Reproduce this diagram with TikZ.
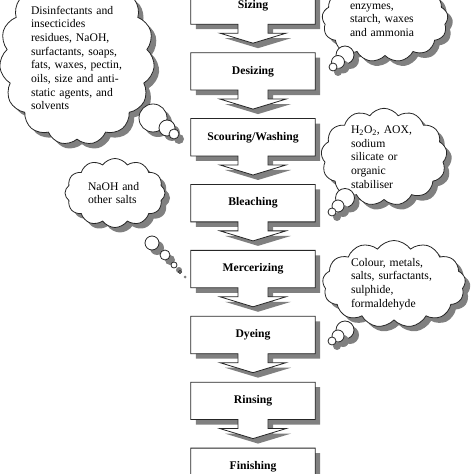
\documentclass[tikz,border=0pt]{standalone}
\usepackage{fontspec}
\setmainfont{Liberation Serif}
\usetikzlibrary{positioning,shapes.symbols,shadows,backgrounds}

\begin{document}
\begin{tikzpicture}[
        x=1bp, y=-1bp,
        node distance=28.5bp,
        stepbox/.style={minimum width=124bp, minimum height=37bp, inner sep=0pt, font=\bfseries\fontsize{11.7}{14}\selectfont},
        dropgray/.style={drop shadow={shadow xshift=5bp, shadow yshift=-5bp, fill=black!50, opacity=1}},
        callout/.style={draw=black!85, fill=white, line width=0.8bp, dropgray},
        note/.style={cloud, cloud puffs=13, cloud puff arc=110, cloud ignores aspect, draw=black!85, fill=white, line width=0.8bp, dropgray, align=left, inner sep=0pt, font=\fontsize{11.7}{13.7}\selectfont},
        bubble/.style={circle, draw=black!85, fill=white, line width=0.8bp, inner sep=0pt, dropgray},
    ]
        \useasboundingbox (0,0) rectangle (474,474);
        \node[stepbox] (siz) at (253,5.5) {Sizing};
        \node[stepbox, below=of siz] (desiz) {Desizing};
        \node[stepbox, below=of desiz] (scour) {Scouring/Washing};
        \node[stepbox, below=of scour] (bleach) {Bleaching};
        \node[stepbox, below=of bleach] (merc) {Mercerizing};
        \node[stepbox, below=of merc] (dye) {Dyeing};
        \node[stepbox, below=of dye] (rinse) {Rinsing};
        \node[stepbox, below=of rinse] (finish) {Finishing};
        \begin{scope}[on background layer]
            \foreach \n in {siz,desiz,scour,bleach,merc,dye,rinse,finish}
                \path[callout] (\n.north west) -- (\n.north east) -- (\n.south east)
                    -- ([xshift=15bp]\n.south) -- ([xshift=15bp,yshift=-9bp]\n.south)
                    -- ([xshift=33bp,yshift=-9bp]\n.south) -- ([yshift=-19bp]\n.south)
                    -- ([xshift=-33bp,yshift=-9bp]\n.south) -- ([xshift=-15bp,yshift=-9bp]\n.south)
                    -- ([xshift=-15bp]\n.south) -- (\n.south west) -- cycle;
        \end{scope}
        \node[note, cloud puffs=15, text width=92bp, minimum width=155bp, minimum height=174bp] (scournote) at (77,58) {Disinfectants and\\insecticides\\residues, NaOH,\\surfactants, soaps,\\fats, waxes, pectin,\\oils, size and anti-\\static agents, and\\solvents};
        \node[note, text width=70bp, minimum width=126bp, minimum height=84bp] (desiznote) at (385,20) {enzymes,\\starch, waxes\\and ammonia};
        \node[note, text width=66bp, minimum width=126bp, minimum height=96bp] (bleachnote) at (384,157) {H\textsubscript{2}O\textsubscript{2}, AOX,\\sodium\\silicate or\\organic\\stabiliser};
        \node[note, cloud puffs=12, text width=54bp, minimum width=100bp, minimum height=69bp] (mercnote) at (115,193) {NaOH and\\other salts};
        \node[note, text width=86bp, minimum width=143bp, minimum height=87bp] (dyenote) at (394,284) {Colour, metals,\\salts, surfactants,\\sulphide,\\formaldehyde};
        \foreach \x/\y/\d [count=\i] in {153/118/28, 167/128/16, 174/134/10,
                345/55/18, 338/62/13, 333/67/8,
                345/198/19, 338/206/12, 332/212/8,
                152/243/14, 165/255/10, 174/265/6, 180/272/3,
                345/330/18, 338/336/12, 332/341/8}
            \node[bubble, minimum size=\d bp] (b\i) at (\x,\y) {};
    \end{tikzpicture}
\end{document}
